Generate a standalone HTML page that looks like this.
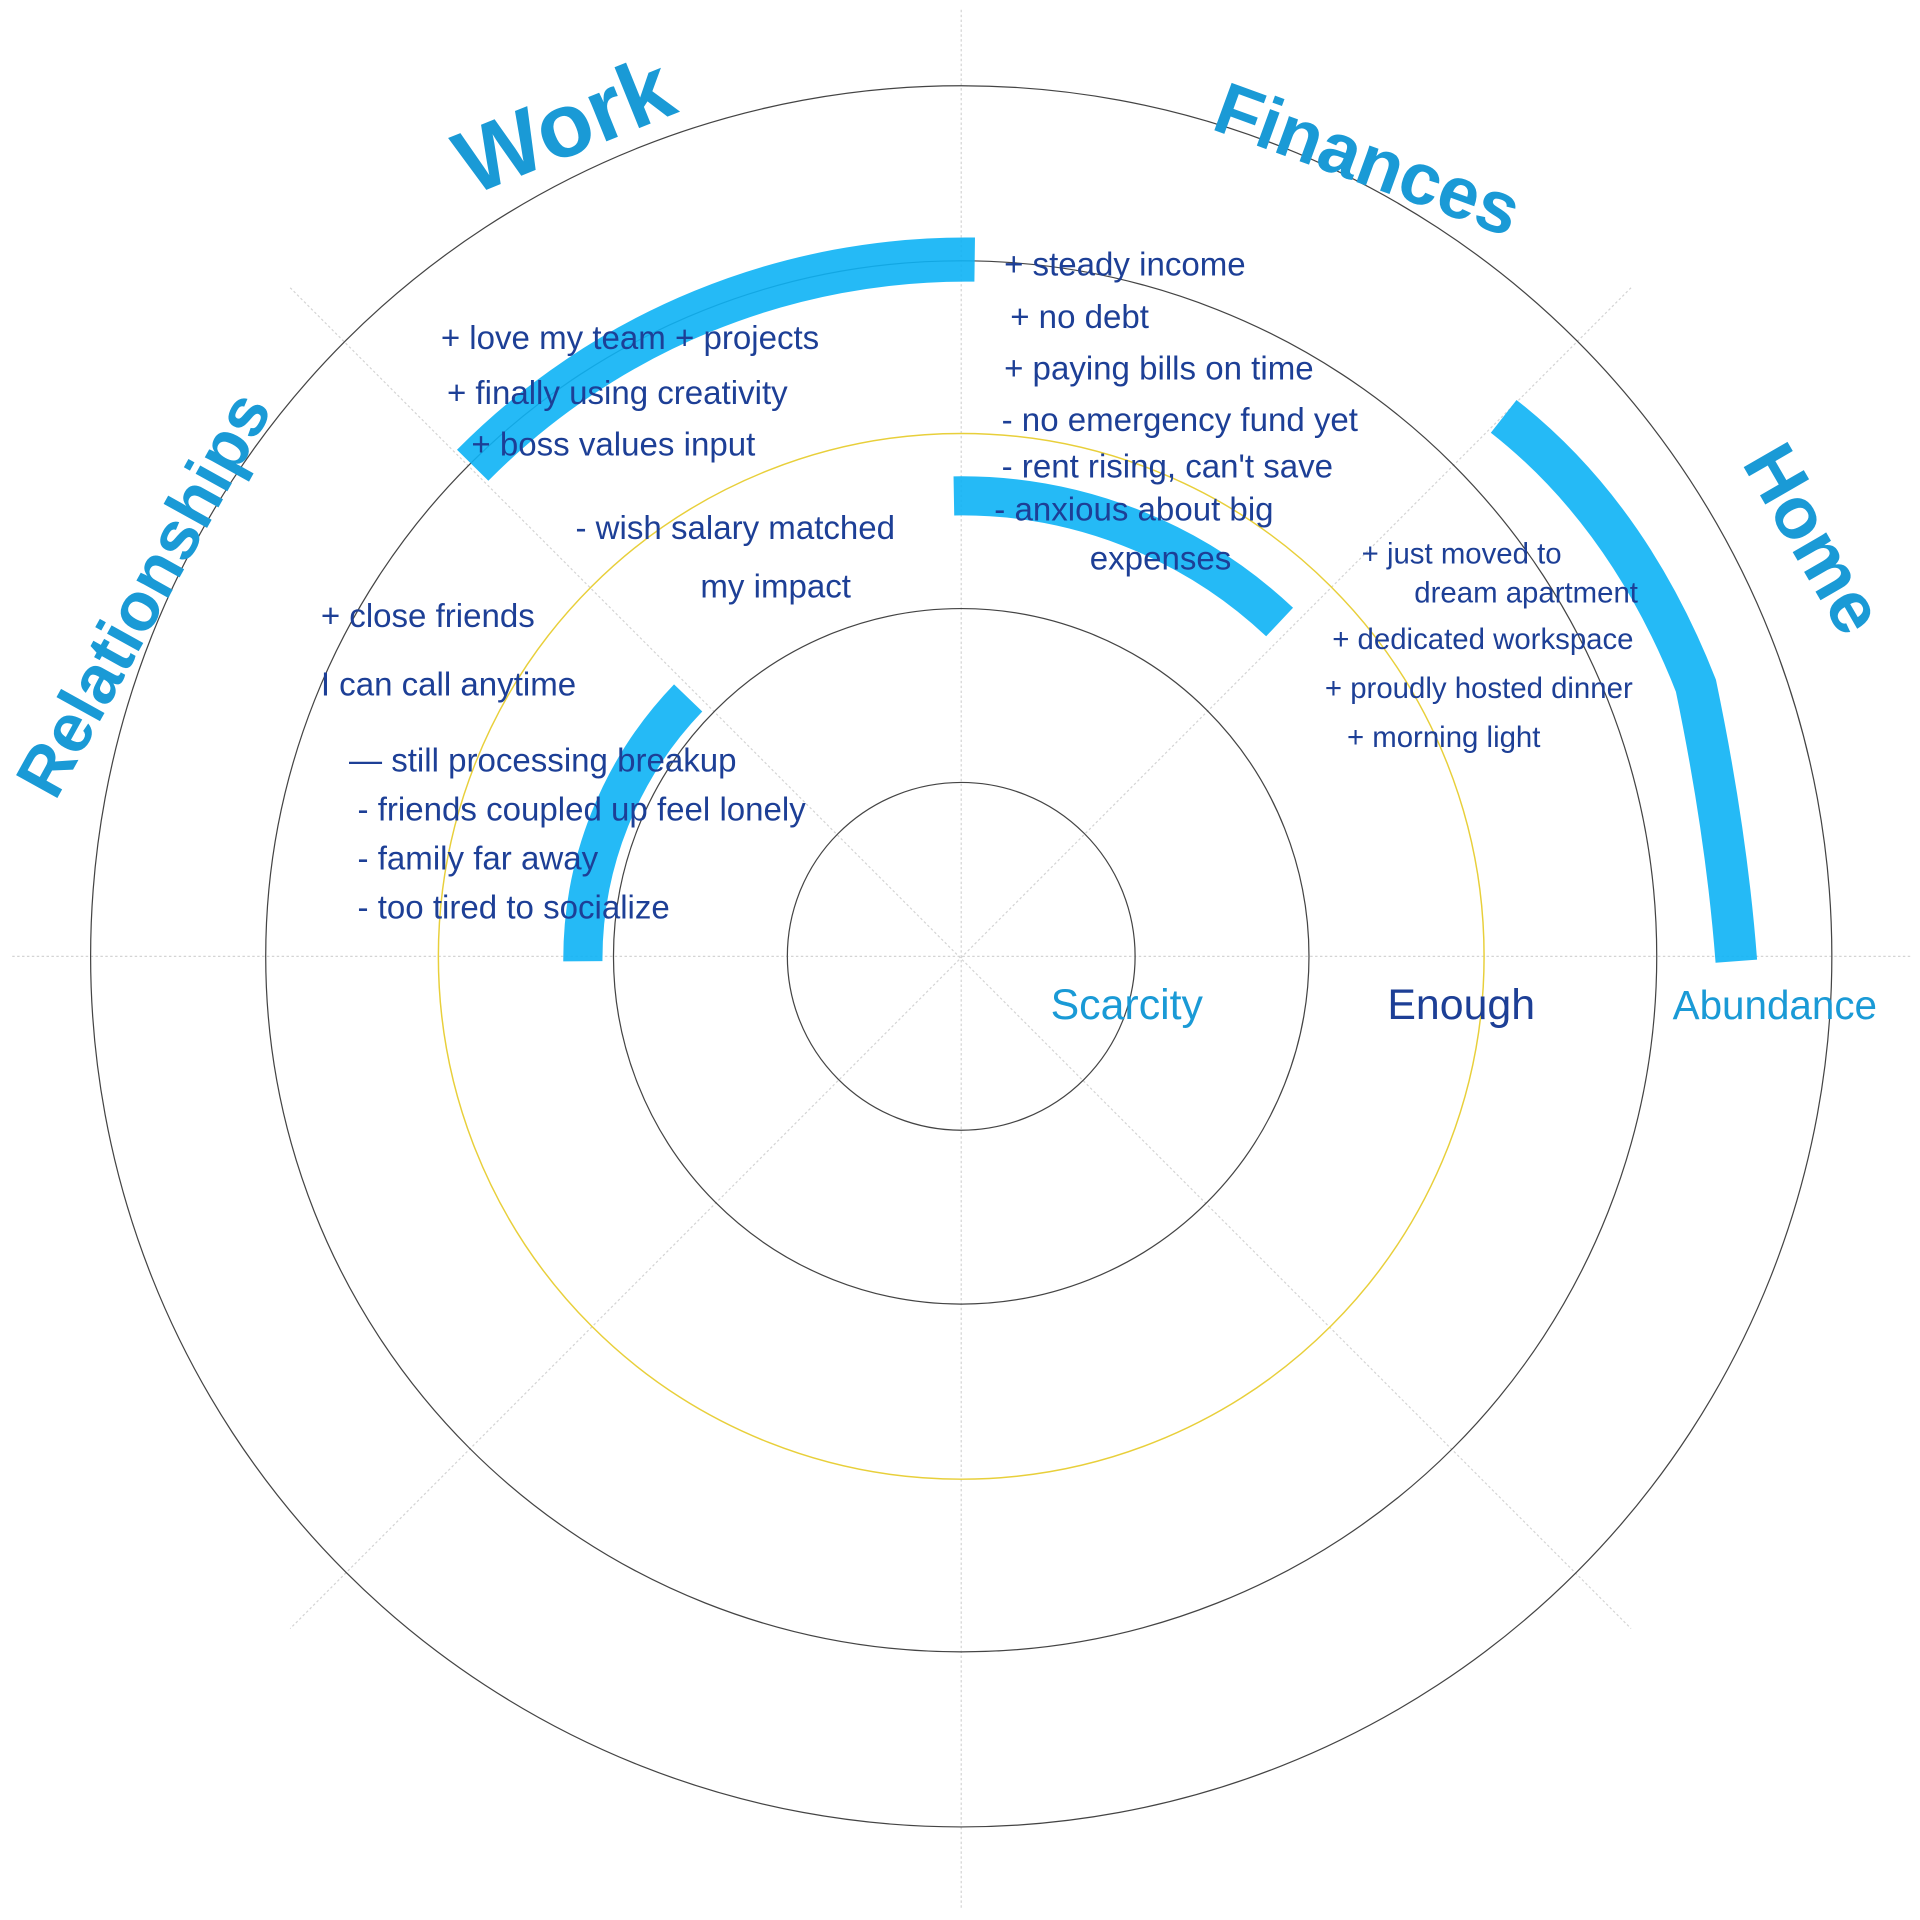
<!DOCTYPE html>
<html><head><meta charset="utf-8"><style>
html,body{margin:0;padding:0;background:#fff;}
svg{display:block;}
.h{font-family:"Liberation Sans",sans-serif;fill:#1d3f96;font-size:27px;}
.t{font-family:"Liberation Sans",sans-serif;fill:#1a9ad6;font-weight:bold;}
</style></head><body>
<svg width="1920" height="1920" viewBox="0 0 1568 1568" xmlns="http://www.w3.org/2000/svg">
<rect width="1568" height="1568" fill="#fff"/>
<g stroke="#d4d4d4" stroke-width="1" stroke-dasharray="2 2">
<line x1="10" y1="781" x2="1560" y2="781"/>
<line x1="785" y1="8" x2="785" y2="1558"/>
<line x1="237" y1="235" x2="1332" y2="1330"/>
<line x1="1332" y1="235" x2="237" y2="1330"/>
</g>
<g fill="none" stroke="#444" stroke-width="1">
<circle cx="785" cy="781" r="142"/>
<circle cx="785" cy="781" r="284"/>
<circle cx="785" cy="781" r="568"/>
<circle cx="785" cy="781" r="711"/>
</g>
<circle cx="785" cy="781" r="427" fill="none" stroke="#e8cf3a" stroke-width="1.2"/>
<g fill="none" stroke="#0db2f5" stroke-opacity="0.9" stroke-linecap="butt">
<path d="M386,380 A566,566 0 0 1 796,212" stroke-width="36"/>
<path d="M779,405 A378,378 0 0 1 1045,508" stroke-width="32"/>
<path d="M562,570 A308,308 0 0 0 476,785" stroke-width="32"/>
<path d="M1228,340 Q1330,420 1385,560 Q1410,680 1418,785" stroke-width="34"/>
</g>
<text class="t" font-size="74" transform="translate(385,160) rotate(-22)">Work</text>
<text class="t" font-size="60" transform="translate(988,105) rotate(20)">Finances</text>
<text class="t" font-size="56" transform="translate(45,655) rotate(-61)">Relationships</text>
<text class="t" font-size="60" transform="translate(1422,378) rotate(60)">Home</text>
<text class="h" x="858" y="832" style="font-size:35px;fill:#1a9ad6">Scarcity</text>
<text class="h" x="1133" y="832" style="font-size:35px">Enough</text>
<text class="h" x="1366" y="832" style="font-size:33px;fill:#1a9ad6">Abundance</text>
<g class="h">
<text x="360" y="285">+ love my team + projects</text>
<text x="365" y="330">+ finally  using  creativity</text>
<text x="385" y="372">+ boss values input</text>
<text x="470" y="440">- wish salary matched</text>
<text x="572" y="488">my impact</text>
<text x="262" y="512">+  close friends</text>
<text x="262" y="568">I can call anytime</text>
<text x="285" y="630">—  still processing  breakup</text>
<text x="292" y="670">- friends coupled up feel lonely</text>
<text x="292" y="710">- family far away</text>
<text x="292" y="750">- too tired to socialize</text>
<text x="820" y="225">+ steady income</text>
<text x="825" y="268">+ no debt</text>
<text x="820" y="310">+ paying bills on time</text>
<text x="818" y="352">- no emergency fund yet</text>
<text x="818" y="390">- rent rising, can't save</text>
<text x="812" y="425">- anxious about big</text>
<text x="890" y="465">expenses</text>
<text x="1112" y="460" style="font-size:24px">+ just moved to</text>
<text x="1155" y="492" style="font-size:24px">dream apartment</text>
<text x="1088" y="530" style="font-size:24px">+ dedicated workspace</text>
<text x="1082" y="570" style="font-size:24px">+ proudly hosted dinner</text>
<text x="1100" y="610" style="font-size:24px">+ morning light</text>
</g>
</svg>
</body></html>
